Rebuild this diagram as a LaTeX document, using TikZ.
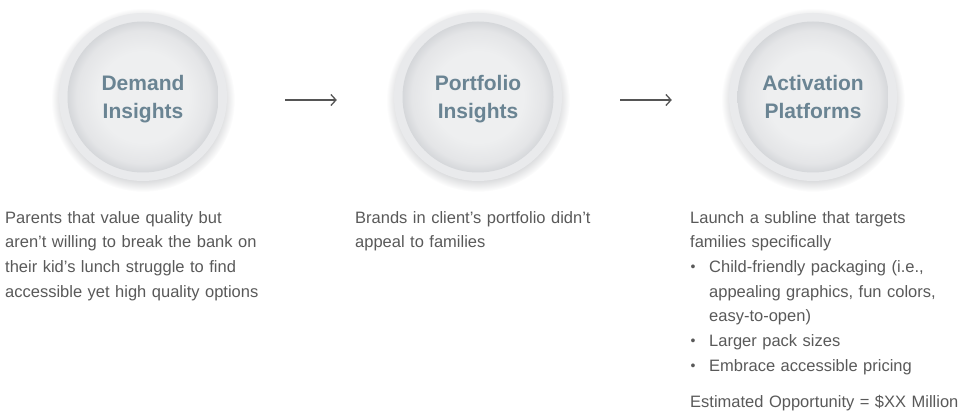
\documentclass[tikz,border=0pt]{standalone}
\usepackage{fontspec}
\setmainfont{Liberation Sans}
\usetikzlibrary{arrows.meta}
\definecolor{titleC}{HTML}{6A8493}
\definecolor{bodyC}{HTML}{595959}
\definecolor{ringC}{HTML}{E9EAEC}
\definecolor{arrowC}{HTML}{555555}
\definecolor{shdC}{HTML}{D6D7D9}
\definecolor{discA}{HTML}{EEEFF0}
\definecolor{discB}{HTML}{E4E5E7}
\definecolor{discC}{HTML}{D5D7DA}
\pgfdeclareradialshading{discshade}{\pgfpoint{0bp}{0bp}}{color(0bp)=(discA); color(15bp)=(discA); color(22bp)=(discB); color(25bp)=(discC); color(50bp)=(discC)}
\pgfdeclareradialshading{shadowshade}{\pgfpoint{0bp}{0bp}}{color(0bp)=(shdC); color(21.5bp)=(shdC); color(25bp)=(white); color(50bp)=(white)}
\newcommand\bulitem[1]{\par{\leftskip=19pt\noindent\llap{\makebox[19pt][l]{\hspace{0.5pt}\raisebox{0.8pt}{\fontsize{14}{14}\selectfont\textbullet}}}#1\par}}
\tikzset{
  shadowdisc/.style={circle, shading=shadowshade, minimum size=184pt, inner sep=0pt},
  ring/.style={circle, fill=ringC, minimum size=168pt, inner sep=0pt},
  disc/.style={circle, shading=discshade, minimum size=151pt, inner sep=0pt},
  titletext/.style={text=titleC, font=\bfseries\fontsize{21}{28}\selectfont, align=center, inner sep=0pt, yshift=-2.4pt},
  bodytext/.style={text=bodyC, font=\fontsize{16.5}{24.7}\selectfont, align=left, anchor=base west, inner sep=0pt},
  flow/.style={draw=arrowC, line width=1.3pt, -{Straight Barb[length=5pt,width=11pt]}}
}
\begin{document}
\begin{tikzpicture}[x=1pt,y=-1pt]
\useasboundingbox (0,0) rectangle (980,417);
% circles
\foreach \n/\x in {1/143,2/478,3/813}{
  \node[shadowdisc] (s\n) at (\x,100) {};
  \node[ring] (r\n) at (\x,97) {};
  \node[disc] (d\n) at (\x,97) {};
}
\node[titletext] (h1) at (d1) {\strut Demand\\\strut Insights};
\node[titletext] (h2) at (d2) {\strut Portfolio\\\strut Insights};
\node[titletext] (h3) at (d3) {\strut Activation\\\strut Platforms};
% arrows
\draw[flow, shorten <=58pt, shorten >=57pt] ([yshift=-3pt]r1.east) -- ([yshift=-3pt]r2.west);
\draw[flow, shorten <=58pt, shorten >=57pt] ([yshift=-3pt]r2.east) -- ([yshift=-3pt]r3.west);
% texts
\node[bodytext, text width=300pt] (t1) at (5,223) {Parents that value quality but\\aren’t willing to break the bank on\\their kid’s lunch struggle to find\\accessible yet high quality options};
\node[bodytext, text width=300pt] (t2) at (355,223) {Brands in client’s portfolio didn’t\\appeal to families};
\node[bodytext, text width=289pt] (t3) at (690,223) {Launch a subline that targets\\families specifically
\bulitem{Child-friendly packaging (i.e.,\\appealing graphics, fun colors,\\easy-to-open)}
\bulitem{Larger pack sizes}
\bulitem{Embrace accessible pricing}
\vspace{11.3pt}
\noindent Estimated Opportunity = \$XX Million};
\end{tikzpicture}
\end{document}
